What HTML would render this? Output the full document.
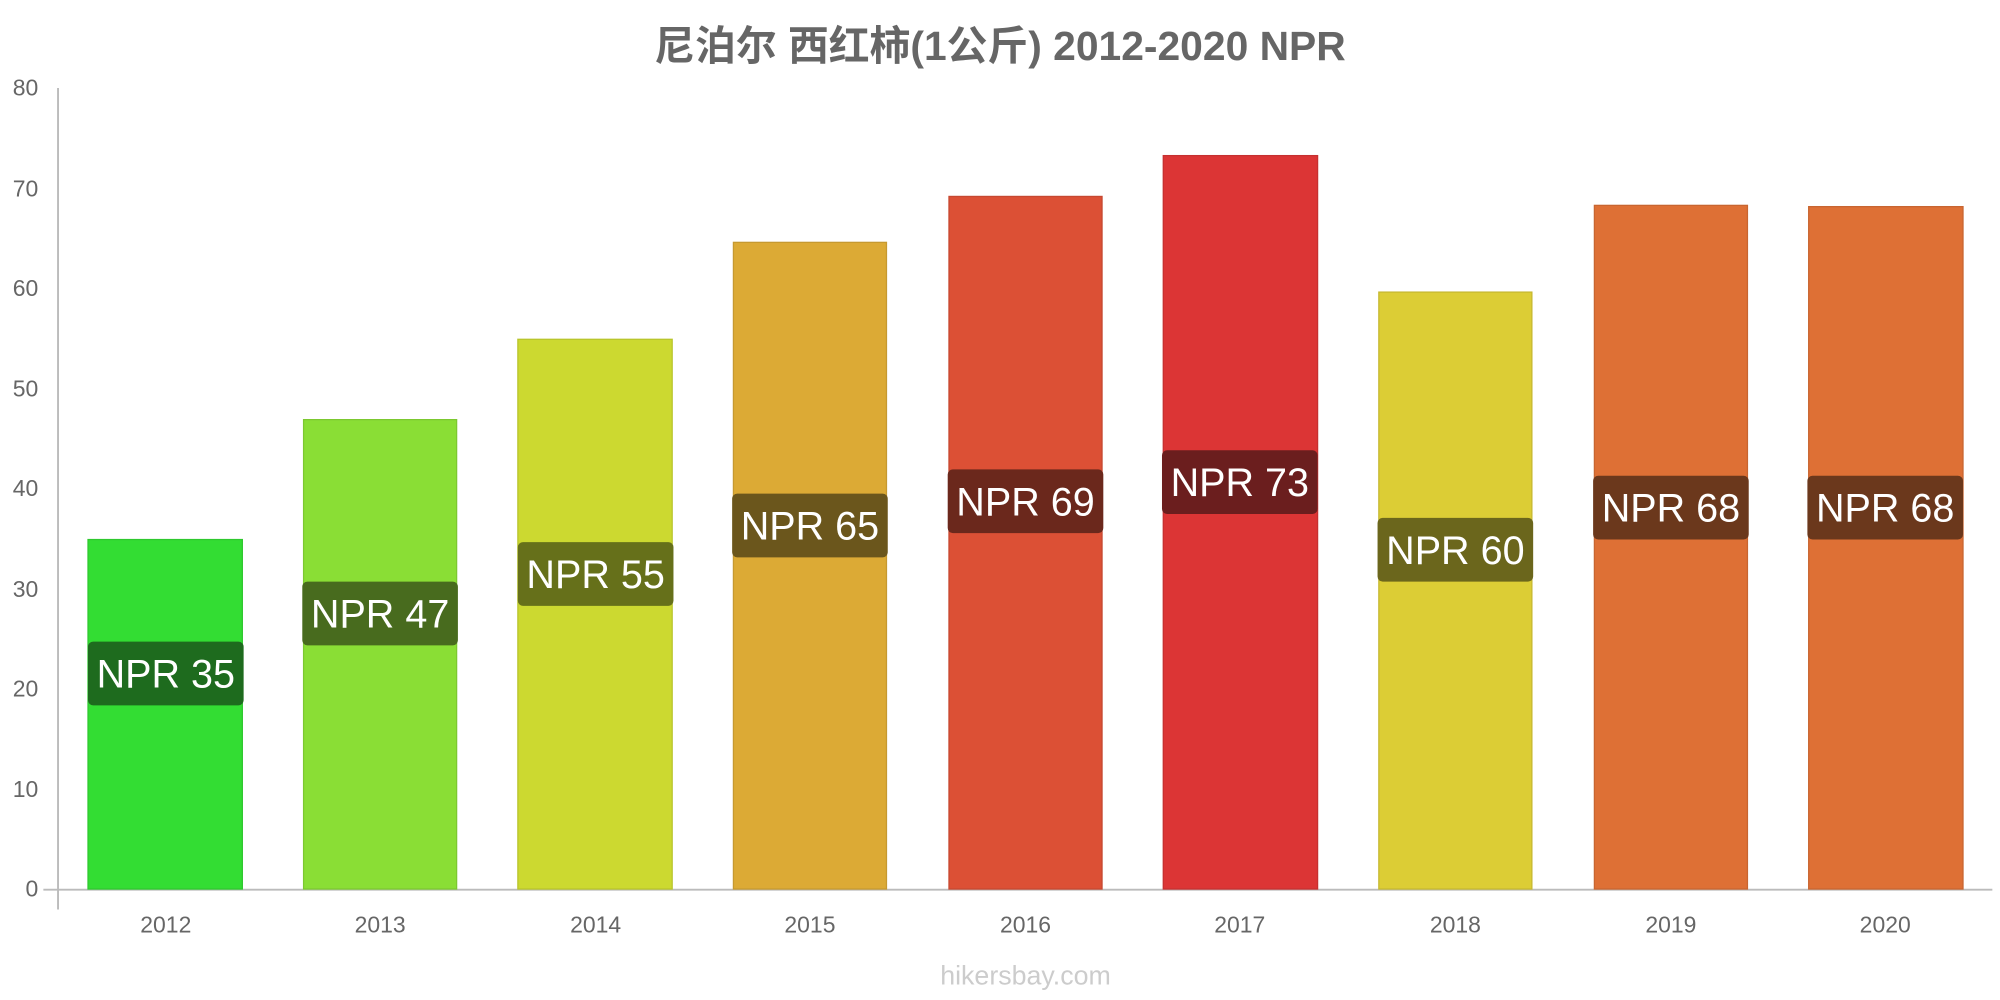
<!DOCTYPE html>
<html><head><meta charset="utf-8"><style>html,body{margin:0;padding:0;background:#fff}svg{display:block}</style></head>
<body>
<svg width="2000" height="1000" viewBox="0 0 1568 784" xmlns="http://www.w3.org/2000/svg" font-family="'Liberation Sans','Noto Sans CJK SC',sans-serif">
<text x="784" y="47" text-anchor="middle" font-size="32" font-weight="bold" fill="#666">尼泊尔 西红柿(1公斤) 2012-2020 NPR</text>
<g font-size="18" fill="#666" text-anchor="end">
<text x="30" y="703">0</text><text x="30" y="625">10</text><text x="30" y="546">20</text><text x="30" y="468">30</text><text x="30" y="389">40</text><text x="30" y="311">50</text><text x="30" y="232">60</text><text x="30" y="154">70</text><text x="30" y="75">80</text>
</g>
<g stroke="#bbb" stroke-width="1.5"><line x1="45.5" y1="69" x2="45.5" y2="713"/><line x1="34" y1="697.5" x2="1562" y2="697.5"/></g>
<g stroke-width="1">
<rect x="69" y="423" width="121" height="274" fill="#33dd33" stroke="#2ec82e"/>
<rect x="238" y="329" width="120" height="368" fill="#8ade35" stroke="#7cc830"/>
<rect x="406" y="266" width="121" height="431" fill="#ccd930" stroke="#b8c42b"/>
<rect x="575" y="190" width="120" height="507" fill="#dcaa35" stroke="#c69930"/>
<rect x="744" y="154" width="120" height="543" fill="#dc5035" stroke="#c64830"/>
<rect x="912" y="122" width="121" height="575" fill="#dc3535" stroke="#c63030"/>
<rect x="1081" y="229" width="120" height="468" fill="#dccd35" stroke="#c6b830"/>
<rect x="1250" y="161" width="120" height="536" fill="#de7035" stroke="#c86530"/>
<rect x="1418" y="162" width="121" height="535" fill="#de7035" stroke="#c86530"/>
</g>
<g font-size="31" fill="#fff" text-anchor="middle">
<rect x="69" y="503" width="122" height="50" rx="4" fill="#1e6b1e"/><text x="130" y="539">NPR 35</text>
<rect x="237" y="456" width="122" height="50" rx="4" fill="#486b1e"/><text x="298" y="492">NPR 47</text>
<rect x="406" y="425" width="122" height="50" rx="4" fill="#66701a"/><text x="467" y="461">NPR 55</text>
<rect x="574" y="387" width="122" height="50" rx="4" fill="#6b561c"/><text x="635" y="423">NPR 65</text>
<rect x="743" y="368" width="122" height="50" rx="4" fill="#6b281c"/><text x="804" y="404">NPR 69</text>
<rect x="911" y="353" width="122" height="50" rx="4" fill="#6b1e1e"/><text x="972" y="389">NPR 73</text>
<rect x="1080" y="406" width="122" height="50" rx="4" fill="#6b661c"/><text x="1141" y="442">NPR 60</text>
<rect x="1249" y="373" width="122" height="50" rx="4" fill="#6b381c"/><text x="1310" y="409">NPR 68</text>
<rect x="1417" y="373" width="122" height="50" rx="4" fill="#6b381c"/><text x="1478" y="409">NPR 68</text>
</g>
<g font-size="18" fill="#666" text-anchor="middle">
<text x="130" y="731">2012</text><text x="298" y="731">2013</text><text x="467" y="731">2014</text><text x="635" y="731">2015</text><text x="804" y="731">2016</text><text x="972" y="731">2017</text><text x="1141" y="731">2018</text><text x="1310" y="731">2019</text><text x="1478" y="731">2020</text>
</g>
<text x="804" y="772" text-anchor="middle" font-size="21" fill="#ccc">hikersbay.com</text>
</svg>
</body></html>
